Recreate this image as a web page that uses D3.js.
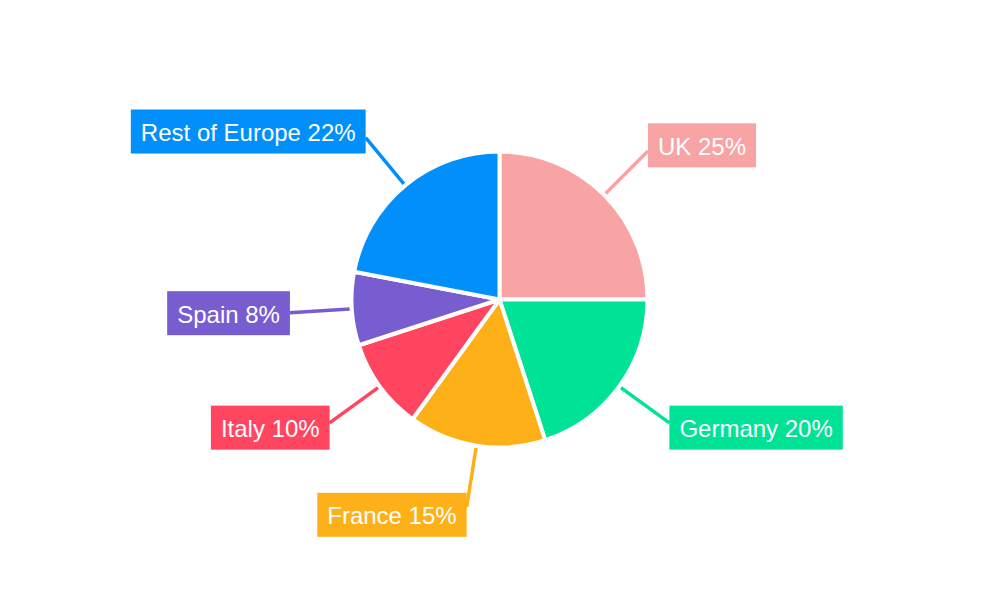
<!DOCTYPE html>
<html>
<head>
<meta charset="utf-8">
<script src="https://cdn.jsdelivr.net/npm/d3@7"></script>
<style>
    html, body { margin: 0; padding: 0; background: #fff; }
    svg { display: block; font-family: "Liberation Sans", Arial, sans-serif; }
</style>
</head>
<body>
<div id="chart"></div>
<script>
// Share of sales by region
var regions = ['UK', 'Germany', 'France', 'Italy', 'Spain', 'Rest of Europe'];
var shares = [25, 20, 15, 10, 8, 22];
var colors = ['#F8A4A5', '#00E396', '#FEB019', '#FF4560', '#775DD0', '#008FFB'];

var width = 1000, height = 600;
var cx = 499.5, cy = 299.5;
var radius = 148;

var data = regions.map(function (r, i) {
    return { region: r, share: shares[i], color: colors[i] };
});

var svg = d3.select('#chart').append('svg')
    .attr('width', width)
    .attr('height', height);

var g = svg.append('g').attr('transform', 'translate(' + cx + ',' + cy + ')');

var pie = d3.pie()
    .value(function (d) { return d.share; })
    .sort(null);

var arc = d3.arc().innerRadius(0).outerRadius(radius);
var arcs = pie(data);

// leader lines under the slices' labels
var lineStart = d3.arc().innerRadius(radius + 3).outerRadius(radius + 3);
var lineEnd = 210;
var labelY = 218;

function midAngle(d) { return (d.startAngle + d.endAngle) / 2; }

g.selectAll('.leader')
    .data(arcs)
    .enter()
        .append('line').classed('leader', true)
        .attr('x1', function (d) { return Math.sin(midAngle(d)) * (radius + 2); })
        .attr('y1', function (d) { return -Math.cos(midAngle(d)) * (radius + 2); })
        .attr('x2', function (d) { return Math.sin(midAngle(d)) * lineEnd; })
        .attr('y2', function (d) { return -Math.cos(midAngle(d)) * lineEnd; })
        .attr('stroke', function (d) { return d.data.color; })
        .attr('stroke-width', 3.5);

g.selectAll('.slice')
    .data(arcs)
    .enter()
        .append('path').classed('slice', true)
        .attr('d', arc)
        .attr('fill', function (d) { return d.data.color; })
        .attr('stroke', '#fff')
        .attr('stroke-width', 4)
        .attr('stroke-linejoin', 'round');

// labels: coloured box with white text
var labels = g.selectAll('.label')
    .data(arcs)
    .enter()
        .append('g').classed('label', true);

var padX = 10, boxH = 44;

labels.each(function (d) {
    var a = midAngle(d);
    var right = Math.sin(a) >= 0;
    var x = Math.sin(a) * lineEnd;
    var y = -Math.cos(a) * labelY;
    var lg = d3.select(this);
    var rect = lg.append('rect').attr('fill', d.data.color);
    var text = lg.append('text')
        .attr('fill', '#fff')
        .attr('font-size', 24)
        .attr('dominant-baseline', 'central')
        .attr('y', y + 1)
        .text(d.data.region + ' ' + d.data.share + '%');
    var w = text.node().getComputedTextLength();
    var x0 = right ? x : x - w - 2 * padX;
    text.attr('x', x0 + padX);
    rect.attr('x', x0)
        .attr('y', y - boxH / 2)
        .attr('width', w + 2 * padX)
        .attr('height', boxH);
});
</script>
</body>
</html>
